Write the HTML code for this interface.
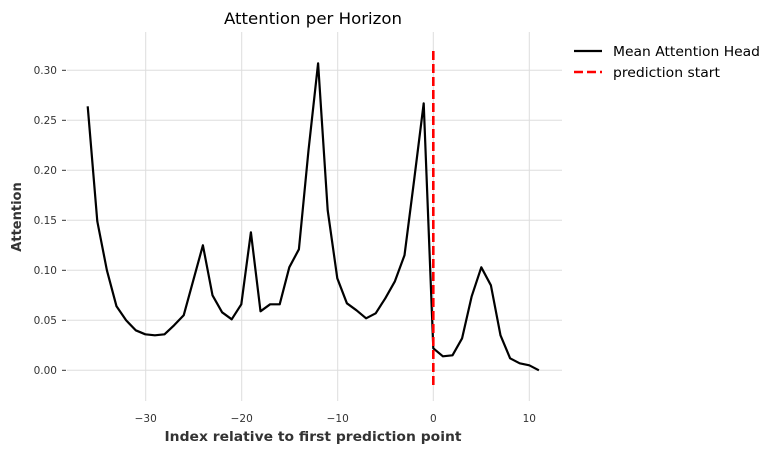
<!DOCTYPE html>
<html><head><meta charset="utf-8"><style>
html,body{margin:0;padding:0;background:#fff;}
svg{display:block;font-family:"DejaVu Sans","Liberation Sans",sans-serif;}
</style></head><body>
<svg width="775" height="454" viewBox="0 0 775 454">
<g stroke="#dddddd" stroke-width="1">
<line x1="145.7" y1="32" x2="145.7" y2="401"/>
<line x1="241.7" y1="32" x2="241.7" y2="401"/>
<line x1="337.7" y1="32" x2="337.7" y2="401"/>
<line x1="433.3" y1="32" x2="433.3" y2="401"/>
<line x1="529.3" y1="32" x2="529.3" y2="401"/>
<line x1="67" y1="70.3" x2="562" y2="70.3"/>
<line x1="67" y1="120.3" x2="562" y2="120.3"/>
<line x1="67" y1="170.3" x2="562" y2="170.3"/>
<line x1="67" y1="220.3" x2="562" y2="220.3"/>
<line x1="67" y1="270.3" x2="562" y2="270.3"/>
<line x1="67" y1="320.3" x2="562" y2="320.3"/>
<line x1="67" y1="370.3" x2="562" y2="370.3"/>
</g>
<g stroke="#333" stroke-width="1">
<line x1="62" y1="70.3" x2="66" y2="70.3"/>
<line x1="62" y1="120.3" x2="66" y2="120.3"/>
<line x1="62" y1="170.3" x2="66" y2="170.3"/>
<line x1="62" y1="220.3" x2="66" y2="220.3"/>
<line x1="62" y1="270.3" x2="66" y2="270.3"/>
<line x1="62" y1="320.3" x2="66" y2="320.3"/>
<line x1="62" y1="370.3" x2="66" y2="370.3"/>
</g>
<g font-size="10.5" fill="#333" text-anchor="end">
<text x="57" y="74">0.30</text>
<text x="57" y="124">0.25</text>
<text x="57" y="174">0.20</text>
<text x="57" y="224">0.15</text>
<text x="57" y="274">0.10</text>
<text x="57" y="324">0.05</text>
<text x="57" y="374">0.00</text>
</g>
<g font-size="10.5" fill="#333" text-anchor="middle">
<text x="145.7" y="422">−30</text>
<text x="241.7" y="422">−20</text>
<text x="337.7" y="422">−10</text>
<text x="433.3" y="422">0</text>
<text x="529.3" y="422">10</text>
</g>
<text x="313" y="441" font-size="13.5" font-weight="bold" fill="#333" text-anchor="middle" textLength="297" lengthAdjust="spacingAndGlyphs">Index relative to first prediction point</text>
<text transform="translate(21,217) rotate(-90)" font-size="13" font-weight="bold" fill="#333" text-anchor="middle">Attention</text>
<text x="313" y="24" font-size="16" fill="#000" text-anchor="middle" textLength="178" lengthAdjust="spacingAndGlyphs">Attention per Horizon</text>
<polyline fill="none" stroke="#000" stroke-width="2.2" stroke-linejoin="round" points="
87.7,106.3 97.3,221.3 106.9,270.3 116.5,306.3 126.1,320.3 135.7,330.3 145.3,334.3 154.9,335.3 164.5,334.3 174.1,325.3 183.7,315.3 193.3,280.3 202.9,245.3 212.5,295.3 222.1,312.3 231.7,319.3 241.3,304.3 250.9,232.3 260.5,311.3 270.1,304.3 279.7,304.3 289.3,267.3 298.9,249.3 308.5,150.3 318.1,63.3 327.7,210.3 337.3,278.3 346.9,303.3 356.5,310.3 366.1,318.3 375.7,313.3 385.3,298.3 394.9,281.3 404.5,255.3 414.1,180.3 423.7,103.3 433.3,348.3 442.9,356.3 452.5,355.3 462.1,338.3 471.7,296.3 481.3,267.3 490.9,285.3 500.5,335.3 510.1,358.3 519.7,363.3 529.3,365.3 538.9,370.3"/>
<line x1="433.3" y1="51" x2="433.3" y2="386" stroke="#ff0000" stroke-width="2.6" stroke-dasharray="9,4"/>
<line x1="574" y1="51" x2="602" y2="51" stroke="#000" stroke-width="2.2"/>
<line x1="574" y1="72" x2="602" y2="72" stroke="#ff0000" stroke-width="2.6" stroke-dasharray="9,4"/>
<g font-size="13" fill="#000">
<text x="613" y="56" textLength="147" lengthAdjust="spacingAndGlyphs">Mean Attention Head</text>
<text x="613" y="77" textLength="107" lengthAdjust="spacingAndGlyphs">prediction start</text>
</g>
</svg>
</body></html>
